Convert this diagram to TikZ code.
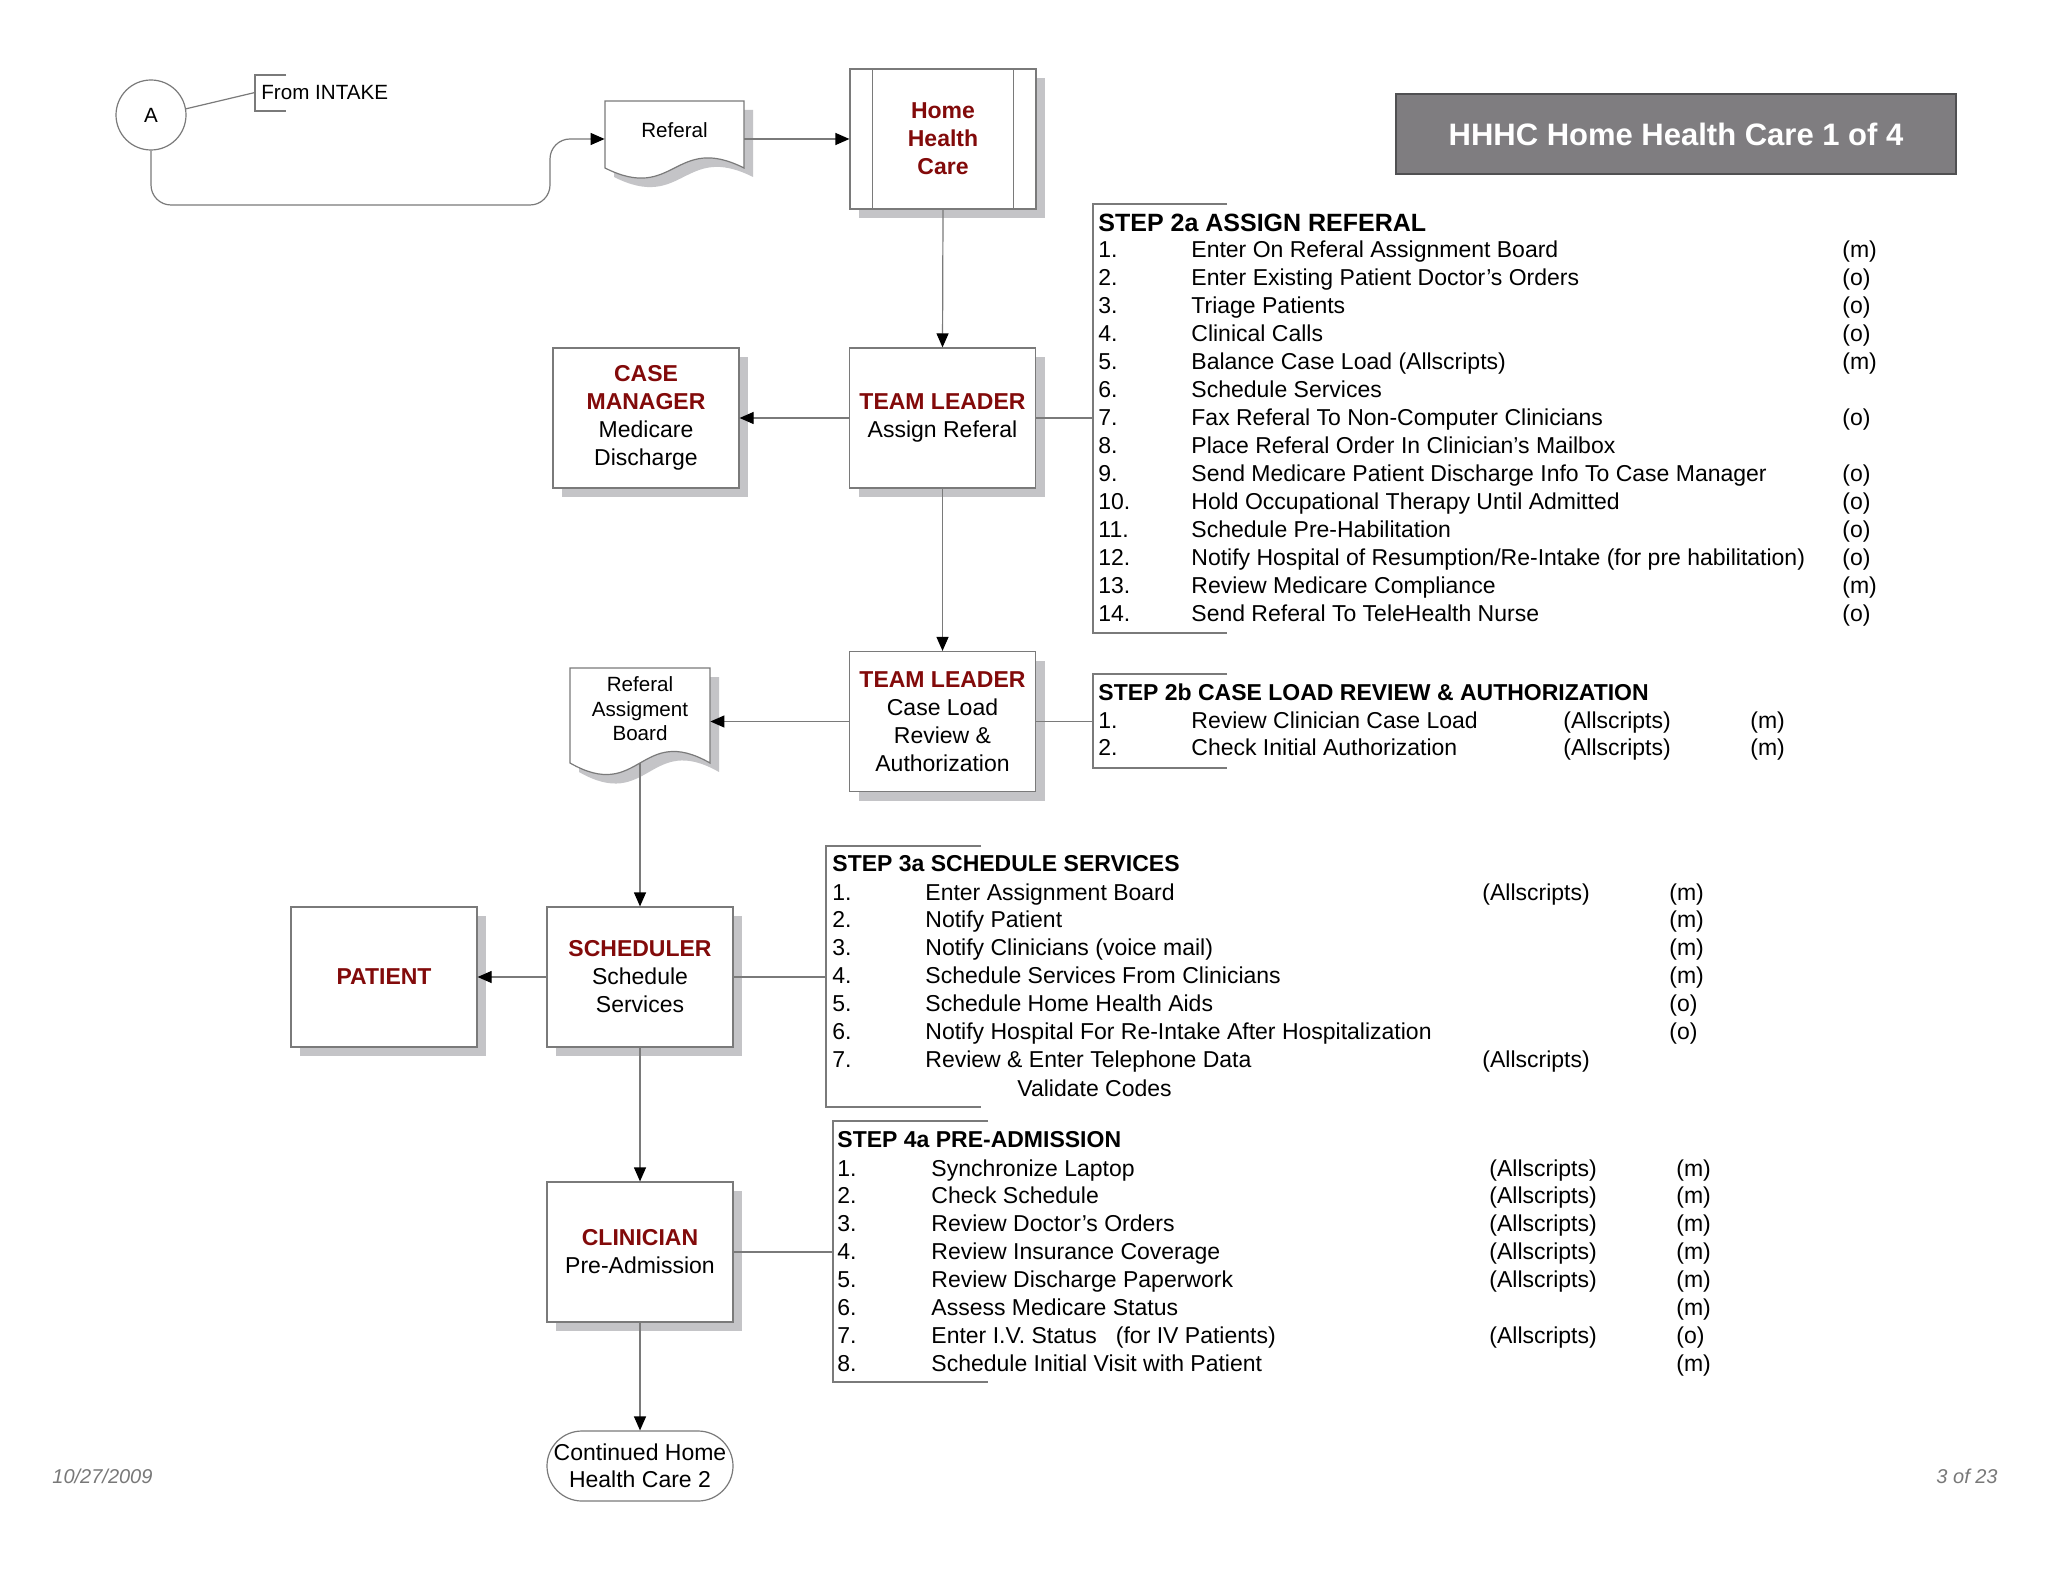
\documentclass[tikz,border=0pt]{standalone}
\usepackage{fontspec}
\setmainfont{Liberation Sans}
\usetikzlibrary{arrows.meta,shadows,calc}
\definecolor{dred}{RGB}{130,10,10}
\definecolor{lgray}{RGB}{122,122,122}
\definecolor{shgray}{RGB}{196,196,199}
\definecolor{ttlgray}{RGB}{127,125,128}
\definecolor{ttlborder}{RGB}{80,80,82}
\definecolor{ftgray}{RGB}{120,120,120}
\newcommand\rdtxt[1]{{\color{dred}\bfseries #1}}
\begin{document}
\begin{tikzpicture}[x=0.5pt,y=-0.5pt,
  conn/.style={draw=lgray, line width=0.6pt},
  arr/.style={conn, arrows={-Triangle[length=7pt,width=6pt,color=black,fill=black]}},
  box/.style={draw=lgray, line width=0.6pt, fill=white, minimum width=93pt, minimum height=70pt,
    align=center, inner sep=0pt, font=\fontsize{11.5}{14}\selectfont,
    drop shadow={shadow xshift=4.5pt, shadow yshift=-4.5pt, fill=shgray, opacity=1}},
  small/.style={font=\fontsize{10.3}{12.3}\selectfont, inner sep=0pt, align=center},
  itm/.style={anchor=base west, inner sep=0pt, font=\fontsize{11.5}{14}\selectfont},
  hd/.style={anchor=base west, inner sep=0pt, font=\fontsize{11.5}{14}\selectfont\bfseries},
  foot/.style={inner sep=0pt, text=ftgray, font=\fontsize{10}{12}\selectfont\itshape}]

\fill[white] (0,0) rectangle (2048,1582);
\useasboundingbox (0,0) rectangle (2048,1582);

% ---------- title ----------
\node[draw=ttlborder, line width=0.7pt, fill=ttlgray, minimum width=280pt, minimum height=40pt,
  inner sep=0pt, text=white, font=\fontsize{15.5}{18}\selectfont\bfseries] (title) at (1676,134)
  {HHHC Home Health Care 1 of 4};

% ---------- start connector ----------
\node[circle, draw=lgray, line width=0.6pt, minimum size=35pt, inner sep=0pt,
  font=\fontsize{10.3}{12}\selectfont] (A) at (151,115) {A};
\node[anchor=base west, small] (intake) at (261,100) {From INTAKE};
\draw[conn] (286,75) -- (255,75) -- (255,111) -- (286,111);
\coordinate (intk) at (255,92.5);
\draw[conn] (A.10) -- (intk);

% ---------- Referal document ----------
\fill[shgray, shift={(9,9)}] (605,101) -- (744,101) -- (744,168)
   .. controls (674.5,133) and (674.5,203) .. (605,168) -- cycle;
\filldraw[fill=white, draw=lgray, line width=0.6pt] (605,101) -- (744,101) -- (744,168)
   .. controls (674.5,133) and (674.5,203) .. (605,168) -- cycle;
\node[minimum width=69.5pt, minimum height=38pt, inner sep=0pt] (ref) at (674.5,139) {};
\node[small] (reftxt) at (674.5,130) {Referal};

% ---------- Home Health Care ----------
\node[box, text=dred, font=\fontsize{11.5}{14}\selectfont\bfseries] (hhc) at (943,139) {Home\\Health\\Care};
\draw[conn] ($(hhc.north west)+(23,0)$) -- ($(hhc.south west)+(23,0)$);
\draw[conn] ($(hhc.north east)+(-23,0)$) -- ($(hhc.south east)+(-23,0)$);

% ---------- boxes ----------
\node[box] (tl1) at (942.5,418) {\rdtxt{TEAM LEADER}\\Assign Referal};
\node[box] (cm) at (646,418) {\rdtxt{CASE}\\\rdtxt{MANAGER}\\Medicare\\Discharge};
\node[box] (tl2) at (942.5,721.5) {\rdtxt{TEAM LEADER}\\Case Load\\Review \&\\Authorization};
\node[box] (sched) at (640,977) {\rdtxt{SCHEDULER}\\Schedule\\Services};
\node[box] (pat) at (384,977) {\rdtxt{PATIENT}};
\node[box] (clin) at (640,1252) {\rdtxt{CLINICIAN}\\Pre-Admission};
\node[draw=lgray, line width=0.6pt, fill=white, rounded corners=17.5pt, minimum width=93pt,
  minimum height=35pt, align=center, inner sep=0pt, font=\fontsize{11.5}{13.5}\selectfont]
  (cont) at (640,1466) {Continued Home\\Health Care 2};

% ---------- Referal Assigment Board document ----------
\fill[shgray, shift={(9,9)}] (570,668) -- (710,668) -- (710,763)
   .. controls (640,723) and (640,803) .. (570,763) -- cycle;
\filldraw[fill=white, draw=lgray, line width=0.6pt] (570,668) -- (710,668) -- (710,763)
   .. controls (640,723) and (640,803) .. (570,763) -- cycle;
\node[minimum width=70pt, minimum height=53.5pt, inner sep=0pt] (rab) at (640,721.5) {};
\node[small] (rabtxt) at (640,709) {Referal\\Assigment\\Board};
\coordinate (rabbot) at (640,763);

% ---------- connectors ----------
\draw[arr, rounded corners=10pt] (A.south) |- (550,205) |- (ref.west);
\draw[arr] (ref.east) -- (hhc.west);
\draw[arr] (hhc.south) -- (tl1.north);
\draw[arr] (tl1.west) -- (cm.east);
\draw[arr] (tl1.south) -- (tl2.north);
\draw[arr] (tl2.west) -- (rab.east);
\draw[arr] (rabbot) -- (sched.north);
\draw[arr] (sched.west) -- (pat.east);
\draw[arr] (sched.south) -- (clin.north);
\draw[arr] (clin.south) -- (cont.north);

% ---------- brackets ----------
\coordinate (b2a) at (1093,418);
\coordinate (b2b) at (1093,721.5);
\coordinate (b3a) at (826,977);
\coordinate (b4a) at (833,1252);
\draw[conn] (1227,204) -- (1093,204) -- (1093,633) -- (1227,633);
\draw[conn] (1227,674) -- (1093,674) -- (1093,768) -- (1227,768);
\draw[conn] (981,846) -- (826,846) -- (826,1107) -- (981,1107);
\draw[conn] (988,1121) -- (833,1121) -- (833,1382) -- (988,1382);
\draw[conn] (tl1.east) -- (b2a);
\draw[conn] (tl2.east) -- (b2b);
\draw[conn] (sched.east) -- (b3a);
\draw[conn] (clin.east) -- (b4a);

% ---------- STEP 2a ----------
\node[hd, font=\fontsize{12.5}{15}\selectfont\bfseries] (s2ah) at (1098,232) {STEP 2a ASSIGN REFERAL};
\foreach \t/\f [count=\i] in {
  {Enter On Referal Assignment Board}/{(m)},
  {Enter Existing Patient Doctor’s Orders}/{(o)},
  {Triage Patients}/{(o)},
  {Clinical Calls}/{(o)},
  {Balance Case Load (Allscripts)}/{(m)},
  {Schedule Services}/{},
  {Fax Referal To Non-Computer Clinicians}/{(o)},
  {Place Referal Order In Clinician’s Mailbox}/{},
  {Send Medicare Patient Discharge Info To Case Manager}/{(o)},
  {Hold Occupational Therapy Until Admitted}/{(o)},
  {Schedule Pre-Habilitation}/{(o)},
  {Notify Hospital of Resumption/Re-Intake (for pre habilitation)}/{(o)},
  {Review Medicare Compliance}/{(m)},
  {Send Referal To TeleHealth Nurse}/{(o)}}{
  \node[itm] (s2an\i) at (1098,{258+27.95*(\i-1)}) {\i.};
  \node[itm] (s2at\i) at (1191,{258+27.95*(\i-1)}) {\t};
  \node[itm] (s2af\i) at (1842,{258+27.95*(\i-1)}) {\f};
}

% ---------- STEP 2b ----------
\node[hd] (s2bh) at (1098,700) {STEP 2b CASE LOAD REVIEW \& AUTHORIZATION};
\node[itm] (s2bn1) at (1098,728) {1.};
\node[itm] (s2bt1) at (1191,728) {Review Clinician Case Load};
\node[itm] (s2ba1) at (1563,728) {(Allscripts)};
\node[itm] (s2bf1) at (1750,728) {(m)};
\node[itm] (s2bn2) at (1098,755.5) {2.};
\node[itm] (s2bt2) at (1191,755.5) {Check Initial Authorization};
\node[itm] (s2ba2) at (1563,755.5) {(Allscripts)};
\node[itm] (s2bf2) at (1750,755.5) {(m)};

% ---------- STEP 3a ----------
\node[hd] (s3ah) at (832,871) {STEP 3a SCHEDULE SERVICES};
\foreach \t/\a/\f [count=\i] in {
  {Enter Assignment Board}/{(Allscripts)}/{(m)},
  {Notify Patient}/{}/{(m)},
  {Notify Clinicians (voice mail)}/{}/{(m)},
  {Schedule Services From Clinicians}/{}/{(m)},
  {Schedule Home Health Aids}/{}/{(o)},
  {Notify Hospital For Re-Intake After Hospitalization}/{}/{(o)},
  {Review \& Enter Telephone Data}/{(Allscripts)}/{}}{
  \node[itm] (s3an\i) at (832,{900+27.95*(\i-1)}) {\i.};
  \node[itm] (s3at\i) at (925,{900+27.95*(\i-1)}) {\t};
  \node[itm] (s3aa\i) at (1482,{900+27.95*(\i-1)}) {\a};
  \node[itm] (s3af\i) at (1669,{900+27.95*(\i-1)}) {\f};
}
\node[itm] (s3av) at (1017,1096) {Validate Codes};

% ---------- STEP 4a ----------
\node[hd] (s4ah) at (837,1147) {STEP 4a PRE-ADMISSION};
\foreach \t/\a/\f [count=\i] in {
  {Synchronize Laptop}/{(Allscripts)}/{(m)},
  {Check Schedule}/{(Allscripts)}/{(m)},
  {Review Doctor’s Orders}/{(Allscripts)}/{(m)},
  {Review Insurance Coverage}/{(Allscripts)}/{(m)},
  {Review Discharge Paperwork}/{(Allscripts)}/{(m)},
  {Assess Medicare Status}/{}/{(m)},
  {Enter I.V. Status\ \ \ (for IV Patients)}/{(Allscripts)}/{(o)},
  {Schedule Initial Visit with Patient}/{}/{(m)}}{
  \node[itm] (s4an\i) at (837,{1176+27.95*(\i-1)}) {\i.};
  \node[itm] (s4at\i) at (931,{1176+27.95*(\i-1)}) {\t};
  \node[itm] (s4aa\i) at (1489,{1176+27.95*(\i-1)}) {\a};
  \node[itm] (s4af\i) at (1676,{1176+27.95*(\i-1)}) {\f};
}

% ---------- footer ----------
\node[foot, anchor=west] (date) at (52,1476) {10/27/2009};
\node[foot, anchor=east] (page) at (1998,1476) {3 of 23};
\end{tikzpicture}
\end{document}
